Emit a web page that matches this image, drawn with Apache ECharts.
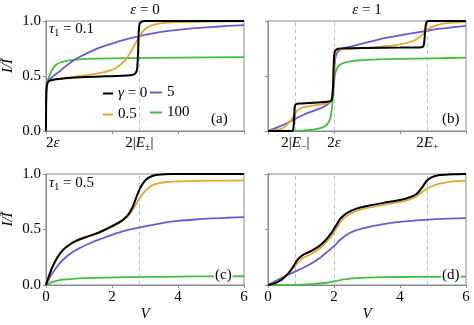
<!DOCTYPE html>
<html>
<head>
<meta charset="utf-8">
<script src="https://cdn.jsdelivr.net/npm/echarts@6/dist/echarts.min.js"></script>
<style>
  html, body { margin: 0; padding: 0; background: #fff; }
  #chart { width: 474px; height: 325px; }
</style>
</head>
<body>
<div id="chart"></div>
<script>
// ---- curve data: [V, I/Ĩ] samples for each damping γ ----
// (a) ε = 0, τ1 = 0.1
const a_g0 = [[0,0],[0.004,0.25],[0.012,0.37],[0.04,0.43],[0.1,0.455],[0.3,0.47],[0.7,0.482],[1.2,0.49],[1.8,0.497],[2.3,0.503],[2.6,0.51],[2.7,0.52],[2.76,0.56],[2.79,0.72],[2.81,0.9],[2.84,0.975],[2.9,0.995],[3.0,1.0],[6,1.0]];
const a_g05 = [[0,0],[0.004,0.25],[0.012,0.37],[0.04,0.43],[0.1,0.455],[0.3,0.47],[0.8,0.49],[1.3,0.51],[1.7,0.53],[2.0,0.555],[2.2,0.59],[2.4,0.645],[2.55,0.71],[2.7,0.79],[2.85,0.87],[3.0,0.925],[3.2,0.96],[3.5,0.98],[4.0,0.99],[5.0,0.995],[6,0.997]];
const a_g5 = [[0,0],[0.004,0.25],[0.012,0.37],[0.04,0.44],[0.1,0.47],[0.2,0.495],[0.4,0.54],[0.6,0.59],[0.8,0.635],[1.0,0.67],[1.3,0.715],[1.6,0.755],[2.0,0.795],[2.4,0.83],[2.8,0.86],[3.2,0.885],[3.6,0.905],[4.0,0.92],[4.5,0.935],[5.0,0.945],[5.5,0.955],[6,0.962]];
const a_g100 = [[0,0],[0.005,0.25],[0.02,0.4],[0.05,0.46],[0.1,0.5],[0.2,0.565],[0.3,0.6],[0.45,0.625],[0.7,0.643],[1.0,0.652],[1.5,0.658],[2.5,0.663],[4,0.667],[6,0.672]];

// (b) ε = 1, τ1 = 0.1
const b_g0 = [[0,0],[0.7,0],[0.76,0.01],[0.79,0.1],[0.81,0.22],[0.85,0.245],[1.0,0.25],[1.5,0.258],[1.85,0.268],[1.93,0.28],[1.97,0.4],[1.99,0.6],[2.02,0.72],[2.1,0.745],[2.3,0.752],[3,0.755],[4,0.758],[4.65,0.762],[4.72,0.78],[4.76,0.9],[4.8,0.99],[4.88,1.0],[6,1.0]];
const b_g05 = [[0,0],[0.2,0.005],[0.4,0.02],[0.55,0.05],[0.7,0.1],[0.8,0.15],[0.9,0.19],[1.05,0.215],[1.3,0.228],[1.6,0.24],[1.85,0.26],[1.93,0.29],[1.97,0.4],[2.0,0.58],[2.03,0.7],[2.1,0.735],[2.3,0.745],[2.8,0.752],[3.3,0.762],[3.8,0.778],[4.2,0.8],[4.45,0.825],[4.62,0.86],[4.75,0.9],[4.9,0.935],[5.1,0.96],[5.4,0.98],[6,0.993]];
const b_g5 = [[0,0],[0.3,0.035],[0.6,0.075],[0.85,0.115],[1.1,0.15],[1.4,0.185],[1.65,0.215],[1.8,0.24],[1.9,0.27],[1.96,0.33],[2.0,0.5],[2.04,0.66],[2.1,0.715],[2.2,0.74],[2.4,0.76],[2.8,0.79],[3.2,0.82],[3.6,0.848],[4.0,0.87],[4.4,0.89],[4.8,0.91],[5.2,0.93],[5.6,0.943],[6,0.955]];
const b_g100 = [[0,0],[0.8,0.002],[1.2,0.008],[1.5,0.02],[1.7,0.04],[1.82,0.07],[1.9,0.13],[1.95,0.25],[1.99,0.4],[2.03,0.51],[2.08,0.565],[2.15,0.595],[2.3,0.62],[2.6,0.637],[3,0.646],[4,0.655],[5,0.661],[6,0.667]];

// (c) ε = 0, τ1 = 0.5
const c_g0 = [[0,0],[0.1,0.09],[0.2,0.165],[0.35,0.25],[0.5,0.31],[0.7,0.36],[0.9,0.395],[1.2,0.43],[1.5,0.46],[1.8,0.5],[2.1,0.545],[2.3,0.58],[2.45,0.62],[2.55,0.66],[2.65,0.72],[2.75,0.8],[2.85,0.87],[2.95,0.92],[3.05,0.955],[3.2,0.98],[3.4,0.993],[3.8,0.999],[6,1.0]];
const c_g05 = [[0,0],[0.1,0.095],[0.2,0.17],[0.35,0.255],[0.5,0.315],[0.7,0.365],[0.9,0.4],[1.2,0.435],[1.5,0.465],[1.8,0.5],[2.1,0.54],[2.3,0.575],[2.45,0.61],[2.6,0.665],[2.75,0.74],[2.9,0.81],[3.05,0.86],[3.2,0.895],[3.4,0.915],[3.7,0.928],[4.2,0.935],[5,0.94],[6,0.942]];
const c_g5 = [[0,0],[0.1,0.06],[0.2,0.11],[0.4,0.19],[0.6,0.25],[0.8,0.295],[1.0,0.33],[1.3,0.372],[1.6,0.408],[2.0,0.452],[2.4,0.49],[2.8,0.517],[3.2,0.54],[3.6,0.562],[4.0,0.577],[4.5,0.59],[5.0,0.6],[5.5,0.606],[6,0.611]];
const c_g100 = [[0,0],[0.1,0.015],[0.2,0.028],[0.35,0.04],[0.5,0.048],[0.8,0.056],[1.2,0.062],[1.8,0.067],[2.5,0.071],[3.5,0.074],[4.5,0.077],[6,0.079]];

// (d) ε = 1, τ1 = 0.5
const d_g0 = [[0,0],[0.2,0.015],[0.4,0.045],[0.6,0.1],[0.75,0.16],[0.9,0.23],[1.05,0.27],[1.3,0.305],[1.55,0.35],[1.75,0.405],[1.9,0.46],[2.05,0.53],[2.2,0.6],[2.4,0.65],[2.7,0.69],[3.0,0.712],[3.5,0.74],[4.0,0.765],[4.3,0.79],[4.5,0.82],[4.65,0.87],[4.8,0.935],[4.95,0.97],[5.2,0.99],[5.6,0.998],[6,1.0]];
const d_g05 = [[0,0],[0.2,0.015],[0.4,0.045],[0.6,0.095],[0.75,0.145],[0.9,0.2],[1.05,0.24],[1.3,0.28],[1.55,0.325],[1.75,0.38],[1.9,0.43],[2.05,0.5],[2.2,0.57],[2.4,0.625],[2.7,0.67],[3.0,0.695],[3.5,0.722],[4.0,0.748],[4.3,0.772],[4.5,0.8],[4.7,0.845],[4.9,0.88],[5.1,0.905],[5.4,0.925],[5.7,0.935],[6,0.94]];
const d_g5 = [[0,0],[0.2,0.03],[0.4,0.062],[0.6,0.09],[0.85,0.125],[1.1,0.16],[1.35,0.2],[1.6,0.25],[1.8,0.3],[2.0,0.35],[2.2,0.41],[2.4,0.455],[2.6,0.485],[2.9,0.512],[3.2,0.532],[3.6,0.553],[4.0,0.568],[4.5,0.582],[5.0,0.592],[5.5,0.598],[6,0.603]];
const d_g100 = [[0,0],[0.5,0.001],[1.0,0.004],[1.4,0.01],[1.7,0.018],[1.9,0.026],[2.1,0.038],[2.3,0.05],[2.5,0.058],[2.8,0.065],[3.2,0.069],[4,0.072],[5,0.074],[6,0.075]];

// characteristic voltages: ε=0 → 2|E±|; ε=1 → 2|E−|, 2ε, 2E+
const markEps0 = [2.83];
const markEps1 = [0.83, 2, 4.83];
const tickLabelsA = ['2{i|ε}', '2|{i|E}{s|±}|'];
const tickValuesA = [0, 2.83];
const tickLabelsB = ['2|{i|E}{s|−}|', '2{i|ε}', '2{i|E}{s|+}'];
const tickValuesB = [0.83, 2, 4.83];

const seriesNames = ['γ = 0', '0.5', '5', '100'];
const seriesColors = ['#000000', '#e0a82e', '#6b5bd2', '#3ec13e'];

const FONT = 'Liberation Serif';
const FRAME = '#8a8a8a';
const rich = {
  i: { fontStyle: 'italic', fontFamily: FONT, fontSize: 15, color: '#000', lineHeight: 17 },
  s: { fontFamily: FONT, fontSize: 10, color: '#000', lineHeight: 10, verticalAlign: 'bottom' }
};
const textBase = { fontFamily: FONT, fontSize: 15, color: '#000', fontWeight: 'normal', lineHeight: 17, rich: rich };

const grids = [
  { left: 46, top: 21, width: 198, height: 110 },
  { left: 268, top: 21, width: 198, height: 110 },
  { left: 46, top: 174, width: 198, height: 111 },
  { left: 268, top: 174, width: 198, height: 111 }
].map(g => Object.assign({ show: true, borderColor: FRAME, borderWidth: 1, containLabel: false }, g));

function pick(values, labels) {
  return function (v) {
    let best = 0;
    for (let k = 1; k < values.length; k++) {
      if (Math.abs(values[k] - v) < Math.abs(values[best] - v)) best = k;
    }
    return labels[best];
  };
}

function xAxis(idx) {
  const ax = {
    type: 'value', gridIndex: idx, min: 0, max: 6, interval: 2,
    axisLine: { show: true, lineStyle: { color: FRAME, width: 1 } },
    axisTick: { show: true, length: 3, lineStyle: { color: FRAME } },
    splitLine: { show: false },
    axisLabel: Object.assign({ margin: 4 }, textBase)
  };
  if (idx === 0) {
    ax.axisLabel.customValues = tickValuesA;
    ax.axisLabel.formatter = pick(tickValuesA, tickLabelsA);
    ax.axisLabel.alignMinLabel = 'left';
  } else if (idx === 1) {
    ax.axisLabel.customValues = tickValuesB;
    ax.axisLabel.formatter = pick(tickValuesB, tickLabelsB);
  } else {
    ax.name = 'V';
    ax.nameLocation = 'middle';
    ax.nameGap = 20;
    ax.nameTextStyle = { fontFamily: FONT, fontSize: 15, fontStyle: 'italic', color: '#000' };
  }
  return ax;
}

function yAxis(idx) {
  const left = (idx % 2 === 0);
  const ax = {
    type: 'value', gridIndex: idx, min: 0, max: 1, interval: 0.5,
    axisLine: { show: true, lineStyle: { color: FRAME, width: 1 } },
    axisTick: { show: true, length: 3, lineStyle: { color: FRAME } },
    splitLine: { show: false },
    axisLabel: Object.assign({ show: left, margin: 5, formatter: v => v.toFixed(1) }, textBase)
  };
  if (left) {
    ax.name = 'I/Ĩ';
    ax.nameLocation = 'middle';
    ax.nameGap = 30;
    ax.nameRotate = 90;
    ax.nameTextStyle = { fontFamily: FONT, fontSize: 15, fontStyle: 'italic', color: '#000', padding: [0, 0, 0, 20] };
  }
  return ax;
}

const panels = [
  [a_g0, a_g05, a_g5, a_g100],
  [b_g0, b_g05, b_g5, b_g100],
  [c_g0, c_g05, c_g5, c_g100],
  [d_g0, d_g05, d_g5, d_g100]
];
const panelMarks = [markEps0, markEps1, markEps0, markEps1];

const series = [];
panels.forEach((curves, p) => {
  // draw order: green, purple, orange, black on top
  [3, 2, 1, 0].forEach((k, n) => {
    const s = {
      type: 'line', name: seriesNames[k], xAxisIndex: p, yAxisIndex: p,
      data: curves[k], symbol: 'none', showSymbol: false, smooth: 0.25,
      lineStyle: { color: seriesColors[k], width: k === 0 ? 2 : 1.8 },
      itemStyle: { color: seriesColors[k] },
      z: 3 + n, animation: false
    };
    if (n === 0) {
      s.markLine = {
        silent: true, symbol: ['none', 'none'], label: { show: false },
        lineStyle: { type: [4, 3], color: '#c4c4c4', width: 1 },
        data: panelMarks[p].map(v => ({ xAxis: v })), z: 1
      };
    }
    series.push(s);
  });
});

function title(text, left, top, extra) {
  return Object.assign({ text: text, left: left, top: top, padding: 0, textStyle: textBase }, extra || {});
}

const option = {
  animation: false,
  backgroundColor: '#fff',
  grid: grids,
  xAxis: [0, 1, 2, 3].map(xAxis),
  yAxis: [0, 1, 2, 3].map(yAxis),
  legend: [
    { data: ['γ = 0', '0.5'], left: 98, top: 80, orient: 'vertical', itemGap: 5, itemWidth: 10, itemHeight: 2, icon: 'rect', selectedMode: false,
      formatter: n => n === 'γ = 0' ? '{i|γ} = 0' : n, textStyle: Object.assign({}, textBase, { lineHeight: 15 }) },
    { data: ['5', '100'], left: 145, top: 80, orient: 'vertical', itemGap: 5, itemWidth: 12, itemHeight: 2, icon: 'rect', selectedMode: false,
      textStyle: Object.assign({}, textBase, { lineHeight: 15 }) }
  ],
  title: [
    title('{i|ε} = 0', 145, 2, { textAlign: 'center' }),
    title('{i|ε} = 1', 367, 2, { textAlign: 'center' }),
    title('{i|τ}{s|1} = 0.1', 49, 21),
    title('{i|τ}{s|1} = 0.5', 49, 175),
    title('(a)', 211, 111),
    title('(b)', 442, 111),
    title('(c)', 214, 267, { backgroundColor: '#fff', padding: [0, 1] }),
    title('(d)', 441, 267, { backgroundColor: '#fff', padding: [0, 1] })
  ],
  series: series
};

const chart = echarts.init(document.getElementById('chart'), null, { renderer: 'canvas' });
chart.setOption(option);
</script>
</body>
</html>
